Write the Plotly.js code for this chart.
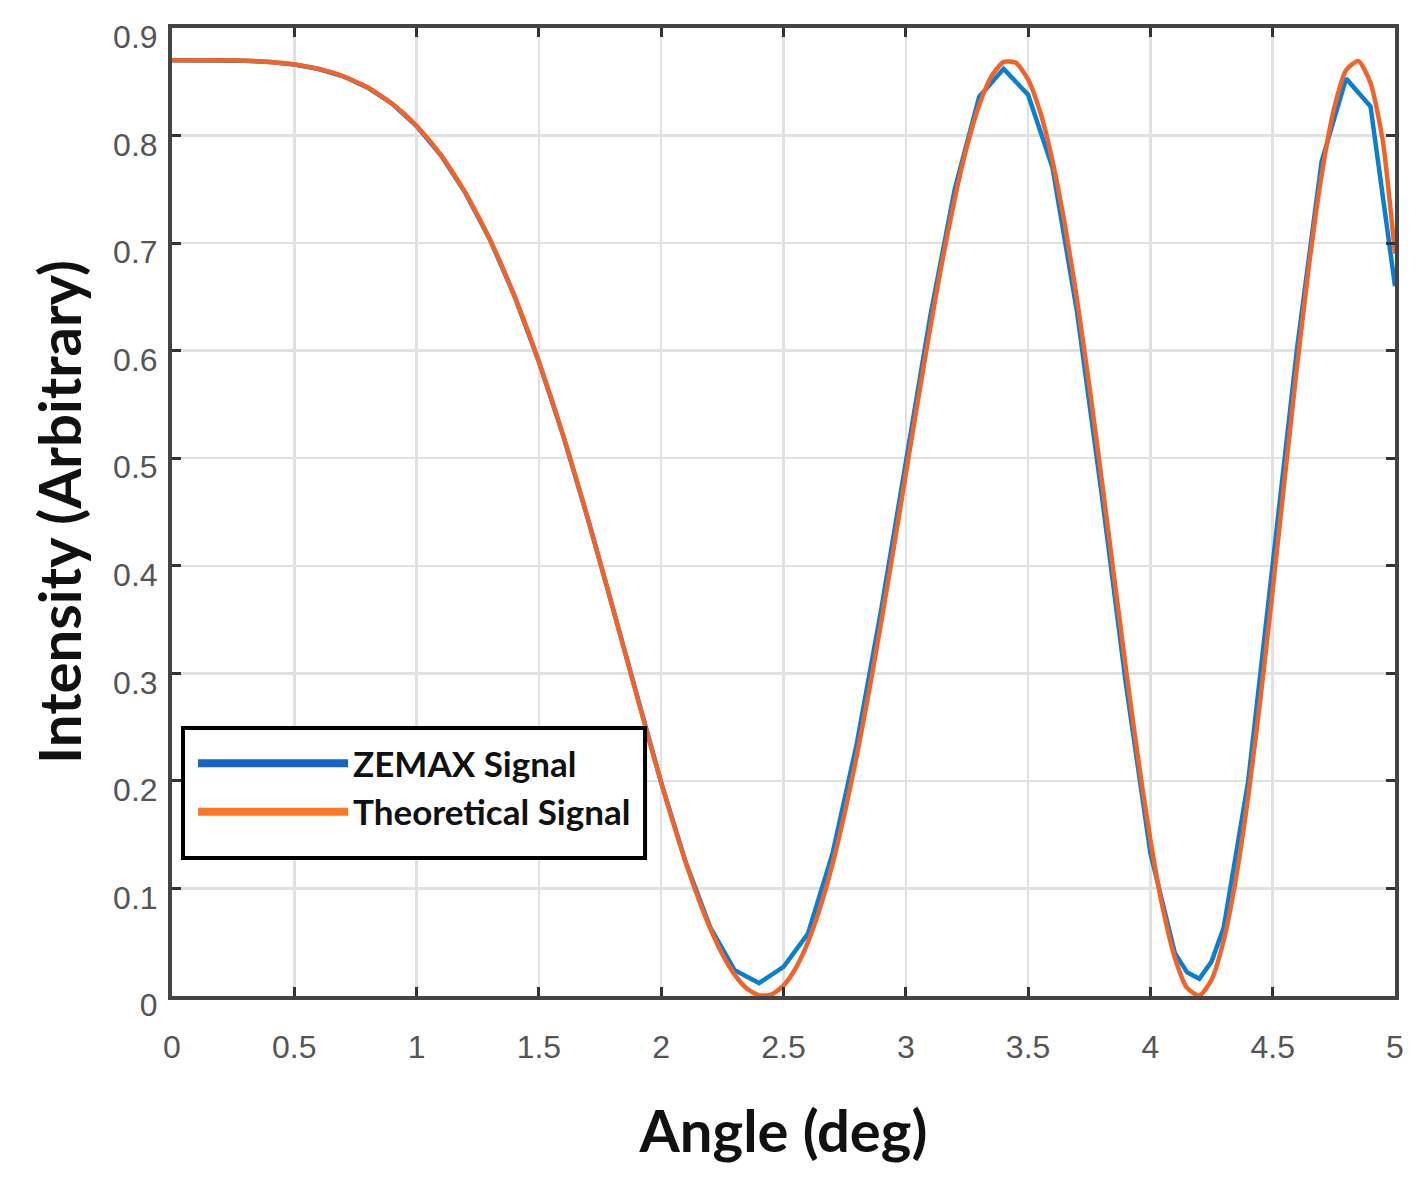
<!DOCTYPE html>
<html>
<head>
<meta charset="utf-8">
<script src="https://cdn.plot.ly/plotly-3.0.1.min.js"></script>
<style>html,body{margin:0;padding:0;background:#fff}#chart{width:1426px;height:1195px}</style>
</head>
<body>
<div id="chart"></div>
<script>
// Theoretical signal, sampled every 0.05 deg
var theoryAngle = [0,0.05,0.1,0.15,0.2,0.25,0.3,0.35,0.4,0.45,0.5,0.55,0.6,0.65,0.7,0.75,0.8,0.85,0.9,0.95,
  1,1.05,1.1,1.15,1.2,1.25,1.3,1.35,1.4,1.45,1.5,1.55,1.6,1.65,1.7,1.75,1.8,1.85,1.9,1.95,
  2,2.05,2.1,2.15,2.2,2.25,2.3,2.35,2.4,2.45,2.5,2.55,2.6,2.65,2.7,2.75,2.8,2.85,2.9,2.95,
  3,3.05,3.1,3.15,3.2,3.25,3.3,3.35,3.4,3.45,3.5,3.55,3.6,3.65,3.7,3.75,3.8,3.85,3.9,3.95,
  4,4.05,4.1,4.15,4.2,4.25,4.3,4.35,4.4,4.45,4.5,4.55,4.6,4.65,4.7,4.75,4.8,4.85,4.9,4.95,5];
var theoryIntensity = [0.870,0.870,0.870,0.870,0.870,0.870,0.8695,0.869,0.8684,0.8674,0.8661,0.8643,0.8619,0.8589,0.8551,0.8503,0.8446,0.8377,0.8296,0.8200,
  0.8089,0.7961,0.7815,0.7650,0.7465,0.7259,0.7032,0.6781,0.6509,0.6214,0.5897,0.5560,0.5205,0.4829,0.4439,0.4037,0.3626,0.3210,0.2794,0.2384,
  0.1984,0.1602,0.1245,0.0919,0.0631,0.0389,0.0199,0.0070,0.0006,0.0013,0.0097,0.0259,0.0501,0.0824,0.1224,0.1698,0.2239,0.2838,0.3484,0.4157,
  0.4852,0.5543,0.6214,0.6844,0.7412,0.7898,0.8283,0.8550,0.8685,0.8677,0.8521,0.8214,0.7762,0.7176,0.6474,0.5678,0.4819,0.3927,0.3043,0.2204,
  0.1452,0.0824,0.0356,0.0075,0.0003,0.0151,0.0520,0.1097,0.1858,0.2766,0.3775,0.4828,0.5864,0.6819,0.7631,0.8242,0.8607,0.8694,0.8488,0.7950,0.690];

// ZEMAX signal (coarser sampling)
var zemaxAngle = [0,0.1,0.2,0.3,0.4,0.5,0.6,0.7,0.8,0.9,1,1.1,1.2,1.3,1.4,1.5,1.6,1.7,1.8,1.9,
  2,2.1,2.2,2.3,2.4,2.5,2.6,2.7,2.8,2.9,3,3.1,3.2,3.3,3.4,3.5,3.6,3.7,3.8,3.9,
  4,4.1,4.15,4.2,4.25,4.3,4.4,4.5,4.6,4.7,4.8,4.9,5];
var zemaxIntensity = [0.870,0.870,0.870,0.8695,0.8684,0.8661,0.8619,0.8551,0.8446,0.8296,0.8089,0.7815,0.7465,0.7032,0.6509,0.5897,0.5205,0.4439,0.3626,0.2794,
  0.1984,0.1245,0.0640,0.0240,0.012,0.027,0.058,0.132,0.235,0.360,0.497,0.632,0.750,0.836,0.862,0.838,0.770,0.636,0.468,0.290,
  0.133,0.040,0.022,0.016,0.032,0.064,0.200,0.398,0.603,0.776,0.853,0.827,0.660];

var xTickVals = [0,0.5,1,1.5,2,2.5,3,3.5,4,4.5,5];
var xTickText = ["0","0.5","1","1.5","2","2.5","3","3.5","4","4.5","5"];
var yTickVals = [0,0.1,0.2,0.3,0.4,0.5,0.6,0.7,0.8,0.9];
var yTickText = ["0","0.1","0.2","0.3","0.4","0.5","0.6","0.7","0.8","0.9"];

var blue = '#0a7fd0', orange = '#f0642c';
var traces = [
  {x: zemaxAngle, y: zemaxIntensity, type: 'scatter', mode: 'lines', name: 'ZEMAX Signal',
   legendgroup: 'z', showlegend: false, line: {color: blue, width: 4.5}},
  {x: theoryAngle, y: theoryIntensity, type: 'scatter', mode: 'lines', name: 'Theoretical Signal',
   legendgroup: 't', showlegend: false, line: {color: orange, width: 4.5, shape: 'spline', smoothing: 0.6}},
  // legend entries (thicker swatches as in the original legend)
  {x: [null], y: [null], type: 'scatter', mode: 'lines', name: 'ZEMAX Signal',
   legendgroup: 'z', line: {color: '#1466c8', width: 8}, hoverinfo: 'skip'},
  {x: [null], y: [null], type: 'scatter', mode: 'lines', name: 'Theoretical Signal',
   legendgroup: 't', line: {color: '#ff7722', width: 8}, hoverinfo: 'skip'}
];

var axisCommon = {
  showline: true, linecolor: '#444', linewidth: 4, mirror: 'ticks',
  ticks: 'inside', ticklen: 9, tickwidth: 3, tickcolor: '#333',
  showgrid: true, gridcolor: '#e1e1e1', gridwidth: 2.5,
  zeroline: false,
  tickfont: {family: 'Liberation Sans, Arial, sans-serif', size: 32, color: '#555'}
};

var layout = {
  width: 1426, height: 1195,
  margin: {l: 172, r: 31, t: 28, b: 199},
  paper_bgcolor: '#ffffff', plot_bgcolor: '#ffffff',
  showlegend: true,
  xaxis: Object.assign({}, axisCommon, {
    range: [0, 5], tickmode: 'array', tickvals: xTickVals, ticktext: xTickText,
    ticklabelstandoff: 20,
    title: {text: 'Angle (deg)', standoff: 48,
      font: {family: 'Lato, Open Sans, sans-serif', size: 58, color: '#111', weight: 'bold'}}
  }),
  yaxis: Object.assign({}, axisCommon, {
    range: [0, 0.9], tickmode: 'array', tickvals: yTickVals, ticktext: yTickText,
    ticklabelstandoff: 4, ticklabelshift: 9,
    title: {text: 'Intensity (Arbitrary)', standoff: 14,
      font: {family: 'Lato, Open Sans, sans-serif', size: 58, color: '#111', weight: 'bold'}}
  }),
  shapes: [
    {type: 'rect', xref: 'paper', yref: 'paper', layer: 'above',
     x0: 0.009, x1: 0.3868, y0: 0.1426, y1: 0.2769,
     line: {color: '#000', width: 4}, fillcolor: '#ffffff'}
  ],
  legend: {
    x: 0.0172, y: 0.2707, xanchor: 'left', yanchor: 'top',
    bgcolor: 'rgba(0,0,0,0)', borderwidth: 0,
    itemwidth: 150, tracegroupgap: 0,
    font: {family: 'Lato, Open Sans, sans-serif', size: 35, color: '#111', weight: 'bold'}
  }
};

Plotly.newPlot('chart', traces, layout, {displayModeBar: false, staticPlot: true});
</script>
</body>
</html>
